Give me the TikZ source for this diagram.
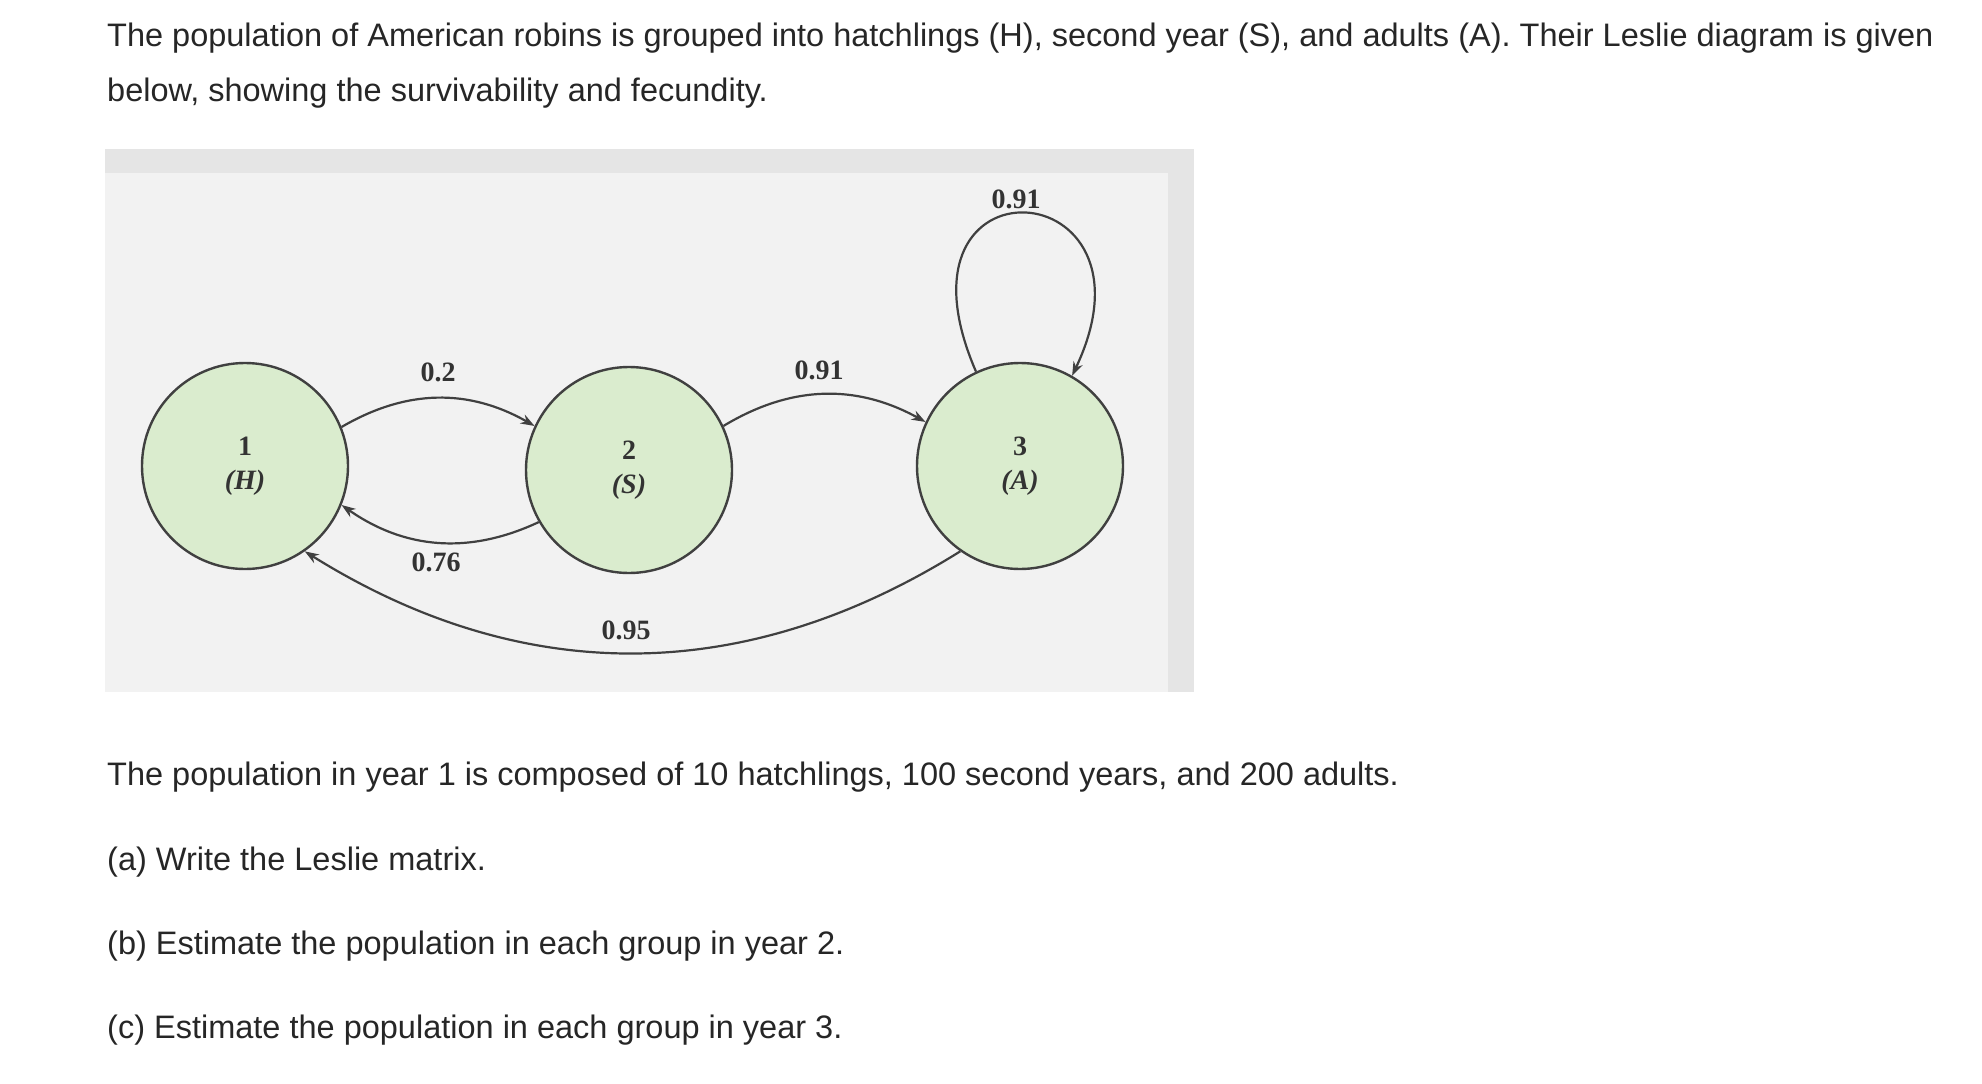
\documentclass[tikz,border=0pt]{standalone}
\usepackage{fontspec}
\setmainfont{Liberation Sans}
\newfontfamily\dfont{Liberation Serif}
\usetikzlibrary{arrows.meta}
\definecolor{nodefill}{RGB}{218,236,206}
\begin{document}
\begin{tikzpicture}[x=1pt,y=-1pt,
  txt/.style={anchor=west,inner sep=0pt,font=\fontsize{32.5}{38}\selectfont,text=black!85},
  st/.style={circle,draw=black!75,line width=2.4pt,fill=nodefill,minimum size=206pt,align=center,font=\dfont\bfseries\fontsize{28}{34}\selectfont,text=black!80},
  lab/.style={font=\dfont\bfseries\fontsize{28}{34}\selectfont,text=black!80,inner sep=0pt},
  edge/.style={draw=black!75,line width=2.2pt,-{Stealth[length=14pt,width=10pt]}}]
\useasboundingbox (0,0) rectangle (1982,1084);
\fill[white] (0,0) rectangle (1982,1084);
\node[txt] (t1) at (107,38) {The population of American robins is grouped into hatchlings (H), second year (S), and adults (A). Their Leslie diagram is given};
\node[txt] (t2) at (107,93) {below, showing the survivability and fecundity.};
\fill[black!10] (105,149) rectangle (1194,692);
\fill[black!5] (105,173) rectangle (1168,692);
\node[st] (H) at (245,466) {1\\\textit{(H)}};
\node[st] (S) at (629,470) {2\\\textit{(S)}};
\node[st] (A) at (1020,466) {3\\\textit{(A)}};
\draw[edge] (H.22) to[bend left=30] (S.155);
\draw[edge] (S.-150) to[bend left=30] (H.-22);
\draw[edge] (S.25) to[bend left=30] (A.155);
\draw[edge] (A.-125) to[bend left=32] (H.-55);
\draw[edge] (A.115) .. controls (880,150) and (1170,170) .. (A.60);
\node[lab] (l1) at (438,372) {0.2};
\node[lab] (l2) at (819,370) {0.91};
\node[lab] (l3) at (436,562) {0.76};
\node[lab] (l4) at (626,630) {0.95};
\node[lab] (l5) at (1016,199) {0.91};
\node[txt] (t3) at (107,777) {The population in year 1 is composed of 10 hatchlings, 100 second years, and 200 adults.};
\node[txt] (t4) at (107,862) {(a) Write the Leslie matrix.};
\node[txt] (t5) at (107,946) {(b) Estimate the population in each group in year 2.};
\node[txt] (t6) at (107,1030) {(c) Estimate the population in each group in year 3.};
\end{tikzpicture}
\end{document}
